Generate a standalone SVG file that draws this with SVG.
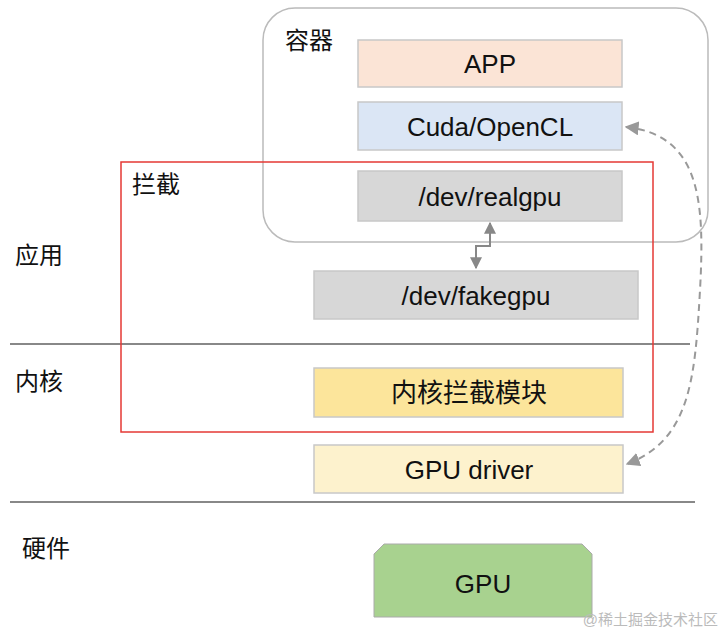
<svg xmlns="http://www.w3.org/2000/svg" width="724" height="633" viewBox="0 0 724 633">
<defs>
<style>
text{font-family:"Liberation Sans","Noto Sans CJK SC",sans-serif;fill:#111;}
.t{font-size:26px;text-anchor:middle;}
.l{font-size:24px;}
.box{stroke:#c8c8c8;stroke-width:1.5;}
</style>
<marker id="a" viewBox="0 0 10 10" refX="9" refY="5" markerWidth="6" markerHeight="6" orient="auto-start-reverse"><path d="M0,0L10,5L0,10z" fill="#888"/></marker>
<marker id="b" viewBox="0 0 10 10" refX="9" refY="5" markerWidth="7" markerHeight="7" orient="auto-start-reverse"><path d="M0,0L10,5L0,10z" fill="#999"/></marker>
</defs>
<rect width="724" height="633" fill="#fff"/>
<g id="layers">
<line x1="10" y1="344" x2="690" y2="344" stroke="#888" stroke-width="2"/>
<line x1="10" y1="502" x2="695" y2="502" stroke="#888" stroke-width="2"/>
<text class="l" x="15" y="264">应用</text>
<text class="l" x="15" y="390">内核</text>
<text class="l" x="22" y="557">硬件</text>
</g>
<g id="container"><rect x="263" y="8" width="445" height="234" rx="32" fill="none" stroke="#bbb" stroke-width="1.5"/><text class="l" x="285" y="49">容器</text></g>
<g id="app"><rect class="box" x="358" y="40" width="264" height="47" fill="#fbe4d6"/><text class="t" x="490" y="73">APP</text></g>
<g id="cuda"><rect class="box" x="358" y="102" width="264" height="48" fill="#dbe6f5"/><text class="t" x="490" y="136">Cuda/OpenCL</text></g>
<g id="realgpu"><rect class="box" x="358" y="171" width="264" height="50" fill="#d7d7d7"/><text class="t" x="490" y="206">/dev/realgpu</text></g>
<g id="fakegpu"><rect class="box" x="314" y="271" width="324" height="48" fill="#d7d7d7"/><text class="t" x="476" y="305">/dev/fakegpu</text></g>
<g id="kmod"><rect class="box" x="314" y="368" width="309" height="49" fill="#fce59b"/><text class="t" x="469" y="402">内核拦截模块</text></g>
<g id="driver"><rect class="box" x="314" y="445" width="309" height="48" fill="#fdf2cd"/><text class="t" x="469" y="479">GPU driver</text></g>
<g id="gpu"><path d="M384,544H582L592,554V617H374V554Z" fill="#a8d28f" stroke="#aaa" stroke-width="1"/><text class="t" x="483" y="593">GPU</text></g>
<g id="intercept"><rect x="121" y="162" width="532" height="270" fill="none" stroke="#e53935" stroke-width="1.5"/><text class="l" x="132" y="193">拦截</text></g>
<g id="connectors" fill="none">
<path d="M490,223V246H476V268" stroke="#888" stroke-width="2" marker-start="url(#a)" marker-end="url(#a)"/>
<path d="M626,127C700,135 705,200 700,290C695,380 690,440 627,464" stroke="#999" stroke-width="2" stroke-dasharray="7,5" marker-start="url(#b)" marker-end="url(#b)"/>
</g>
<text x="718" y="625" style="font-size:15px;fill:#bbb;text-anchor:end">@稀土掘金技术社区</text>
</svg>
